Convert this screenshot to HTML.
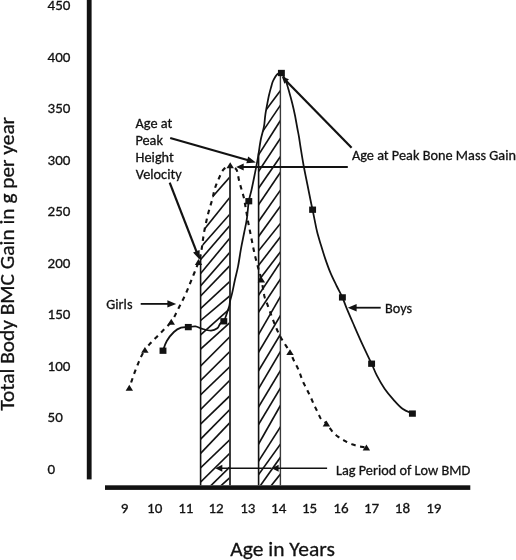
<!DOCTYPE html>
<html><head><meta charset="utf-8"><title>Total Body BMC Gain by Age</title>
<style>html,body{margin:0;padding:0;background:#fff;width:516px;height:560px;overflow:hidden}svg{display:block}</style>
</head><body>
<svg width="516" height="560" viewBox="0 0 516 560">
<rect width="516" height="560" fill="#fff"/>
<defs>
<clipPath id="cl"><polygon points="230.10,485.30 200.60,485.30 200.60,254.44 200.60,254.44 200.67,254.11 200.74,253.77 200.81,253.44 200.88,253.10 200.95,252.76 201.02,252.42 201.09,252.07 201.16,251.72 201.23,251.36 201.30,251.00 201.37,250.63 201.44,250.26 201.51,249.90 201.57,249.53 201.64,249.16 201.70,248.78 201.76,248.41 201.81,248.04 201.87,247.67 201.92,247.30 201.97,246.92 202.03,246.55 202.08,246.18 202.13,245.81 202.18,245.44 202.22,245.07 202.27,244.70 202.32,244.33 202.36,243.96 202.41,243.59 202.46,243.23 202.50,242.86 202.55,242.50 202.60,242.14 202.65,241.78 202.70,241.42 202.75,241.06 202.80,240.70 202.85,240.35 202.90,240.00 202.95,239.65 203.00,239.31 203.05,238.97 203.10,238.64 203.15,238.31 203.20,237.98 203.25,237.66 203.30,237.34 203.34,237.02 203.39,236.70 203.44,236.38 203.48,236.07 203.53,235.75 203.58,235.44 203.62,235.12 203.67,234.80 203.72,234.48 203.77,234.16 203.83,233.84 203.88,233.51 203.93,233.18 203.99,232.85 204.04,232.51 204.10,232.17 204.16,231.82 204.23,231.47 204.29,231.11 204.36,230.75 204.43,230.38 204.50,230.00 204.57,229.61 204.65,229.22 204.73,228.81 204.82,228.39 204.90,227.97 204.99,227.54 205.08,227.10 205.17,226.66 205.27,226.21 205.36,225.76 205.46,225.31 205.56,224.85 205.66,224.39 205.76,223.93 205.86,223.47 205.96,223.02 206.06,222.56 206.16,222.10 206.26,221.65 206.36,221.20 206.46,220.76 206.56,220.32 206.66,219.89 206.75,219.46 206.85,219.05 206.94,218.64 207.03,218.24 207.13,217.85 207.21,217.47 207.30,217.10 207.38,216.74 207.47,216.39 207.55,216.05 207.63,215.72 207.71,215.40 207.79,215.08 207.86,214.77 207.94,214.46 208.01,214.16 208.09,213.87 208.16,213.58 208.24,213.29 208.31,213.01 208.38,212.73 208.46,212.46 208.53,212.18 208.60,211.91 208.68,211.64 208.75,211.37 208.82,211.10 208.90,210.83 208.97,210.55 209.05,210.28 209.12,210.01 209.20,209.73 209.28,209.45 209.36,209.17 209.44,208.88 209.52,208.59 209.60,208.30 209.68,208.00 209.77,207.71 209.86,207.41 209.94,207.12 210.03,206.83 210.12,206.53 210.21,206.24 210.30,205.95 210.39,205.66 210.48,205.36 210.57,205.07 210.67,204.78 210.76,204.48 210.85,204.19 210.94,203.89 211.04,203.60 211.13,203.30 211.22,203.00 211.32,202.70 211.41,202.40 211.50,202.10 211.59,201.80 211.68,201.49 211.77,201.19 211.86,200.88 211.95,200.57 212.04,200.25 212.13,199.94 212.21,199.62 212.30,199.30 212.38,198.98 212.47,198.65 212.55,198.31 212.63,197.98 212.71,197.64 212.78,197.29 212.86,196.95 212.94,196.60 213.01,196.25 213.09,195.90 213.16,195.54 213.24,195.19 213.31,194.83 213.39,194.48 213.46,194.12 213.54,193.76 213.61,193.41 213.69,193.05 213.77,192.70 213.84,192.35 213.92,192.00 214.00,191.65 214.08,191.31 214.17,190.97 214.25,190.63 214.34,190.29 214.42,189.96 214.51,189.64 214.61,189.32 214.70,189.00 214.80,188.69 214.89,188.38 214.99,188.08 215.08,187.79 215.18,187.49 215.28,187.21 215.38,186.92 215.48,186.64 215.58,186.36 215.69,186.08 215.79,185.81 215.89,185.53 216.00,185.26 216.10,184.99 216.21,184.72 216.32,184.45 216.43,184.18 216.54,183.91 216.66,183.64 216.77,183.36 216.89,183.09 217.00,182.81 217.12,182.53 217.24,182.25 217.36,181.97 217.49,181.68 217.61,181.39 217.74,181.10 217.87,180.80 218.00,180.50 218.13,180.19 218.27,179.87 218.41,179.55 218.55,179.21 218.70,178.87 218.85,178.53 219.00,178.18 219.15,177.82 219.30,177.46 219.46,177.10 219.62,176.74 219.78,176.38 219.93,176.02 220.10,175.66 220.26,175.30 220.42,174.94 220.58,174.59 220.74,174.24 220.90,173.90 221.06,173.56 221.22,173.23 221.38,172.91 221.54,172.60 221.70,172.29 221.85,172.00 222.01,171.71 222.16,171.44 222.31,171.18 222.46,170.93 222.60,170.70 222.74,170.48 222.88,170.27 223.03,170.07 223.17,169.89 223.31,169.71 223.44,169.54 223.58,169.38 223.72,169.23 223.86,169.08 223.99,168.94 224.13,168.81 224.26,168.69 224.40,168.57 224.53,168.46 224.66,168.35 224.79,168.25 224.93,168.15 225.06,168.05 225.19,167.96 225.32,167.87 225.45,167.78 225.58,167.69 225.71,167.61 225.84,167.52 225.96,167.44 226.09,167.35 226.22,167.27 226.35,167.18 226.47,167.09 226.60,167.00 226.73,166.91 226.85,166.82 226.98,166.73 227.10,166.63 227.22,166.54 227.35,166.45 227.47,166.37 227.59,166.28 227.71,166.19 227.83,166.11 227.95,166.03 228.07,165.95 228.19,165.87 228.31,165.80 228.43,165.73 228.55,165.66 228.67,165.60 228.79,165.54 228.90,165.48 229.02,165.43 229.14,165.39 229.26,165.34 229.38,165.31 229.49,165.27 229.61,165.25 229.73,165.23 229.85,165.21 229.96,165.20 230.08,165.20 230.10,165.20"/></clipPath>
<clipPath id="cr"><polygon points="280.30,485.30 258.60,485.30 258.60,153.54 258.67,153.07 258.76,152.45 258.85,151.83 258.94,151.21 259.03,150.59 259.12,149.97 259.21,149.35 259.30,148.73 259.39,148.11 259.48,147.50 259.57,146.89 259.66,146.28 259.75,145.68 259.84,145.08 259.93,144.49 260.02,143.90 260.12,143.32 260.21,142.74 260.31,142.18 260.40,141.62 260.50,141.07 260.60,140.53 260.70,140.00 260.80,139.48 260.91,138.97 261.02,138.46 261.13,137.96 261.24,137.47 261.36,136.98 261.48,136.50 261.59,136.03 261.71,135.56 261.83,135.09 261.95,134.63 262.08,134.18 262.20,133.73 262.32,133.28 262.44,132.84 262.56,132.40 262.68,131.96 262.79,131.53 262.91,131.09 263.02,130.66 263.13,130.23 263.24,129.81 263.35,129.38 263.45,128.96 263.55,128.53 263.65,128.11 263.74,127.68 263.83,127.25 263.92,126.83 264.00,126.40 264.08,125.98 264.15,125.56 264.21,125.14 264.27,124.74 264.33,124.33 264.38,123.94 264.43,123.54 264.47,123.15 264.52,122.76 264.56,122.37 264.59,121.99 264.63,121.61 264.66,121.22 264.70,120.84 264.73,120.46 264.76,120.07 264.80,119.69 264.83,119.30 264.86,118.91 264.90,118.51 264.94,118.12 264.98,117.72 265.02,117.31 265.06,116.90 265.11,116.48 265.16,116.06 265.21,115.63 265.27,115.20 265.33,114.75 265.40,114.30 265.47,113.83 265.55,113.35 265.63,112.86 265.71,112.35 265.80,111.83 265.89,111.29 265.99,110.75 266.09,110.20 266.18,109.65 266.29,109.09 266.39,108.53 266.49,107.96 266.60,107.39 266.70,106.83 266.81,106.26 266.91,105.70 267.02,105.15 267.12,104.60 267.22,104.05 267.33,103.52 267.43,103.00 267.52,102.49 267.62,101.99 267.71,101.51 267.80,101.04 267.89,100.59 267.97,100.16 268.05,99.75 268.13,99.37 268.20,99.00 268.27,98.66 268.33,98.33 268.39,98.03 268.45,97.74 268.50,97.47 268.55,97.22 268.60,96.98 268.65,96.75 268.69,96.54 268.73,96.34 268.77,96.15 268.81,95.96 268.85,95.79 268.89,95.62 268.92,95.46 268.96,95.31 269.00,95.16 269.03,95.01 269.07,94.86 269.10,94.72 269.14,94.57 269.17,94.43 269.21,94.28 269.24,94.13 269.28,93.97 269.32,93.81 269.36,93.65 269.41,93.47 269.45,93.29 269.50,93.10 269.55,92.90 269.60,92.71 269.65,92.51 269.70,92.31 269.75,92.11 269.80,91.91 269.85,91.71 269.91,91.51 269.96,91.31 270.01,91.11 270.06,90.92 270.12,90.72 270.17,90.52 270.23,90.32 270.28,90.12 270.34,89.92 270.39,89.72 270.45,89.52 270.50,89.33 270.56,89.13 270.61,88.93 270.67,88.74 270.72,88.54 270.78,88.35 270.83,88.15 270.88,87.96 270.94,87.77 270.99,87.58 271.05,87.39 271.10,87.20 271.15,87.01 271.21,86.82 271.26,86.63 271.31,86.45 271.36,86.26 271.41,86.07 271.46,85.88 271.51,85.70 271.56,85.51 271.61,85.32 271.66,85.14 271.71,84.95 271.76,84.77 271.81,84.58 271.86,84.40 271.91,84.22 271.96,84.04 272.02,83.86 272.07,83.68 272.12,83.50 272.18,83.32 272.23,83.15 272.29,82.97 272.34,82.80 272.40,82.63 272.46,82.46 272.52,82.29 272.58,82.13 272.64,81.96 272.70,81.80 272.76,81.64 272.83,81.48 272.89,81.32 272.96,81.17 273.03,81.01 273.10,80.86 273.16,80.70 273.23,80.55 273.30,80.40 273.37,80.26 273.45,80.11 273.52,79.96 273.59,79.82 273.66,79.67 273.74,79.53 273.81,79.39 273.89,79.25 273.96,79.11 274.04,78.97 274.11,78.83 274.19,78.70 274.27,78.56 274.35,78.43 274.42,78.29 274.50,78.16 274.58,78.02 274.66,77.89 274.74,77.76 274.82,77.63 274.90,77.50 274.98,77.37 275.06,77.24 275.14,77.11 275.22,76.97 275.30,76.84 275.37,76.71 275.45,76.58 275.53,76.44 275.61,76.31 275.69,76.18 275.77,76.05 275.85,75.92 275.93,75.79 276.01,75.67 276.09,75.54 276.18,75.42 276.26,75.30 276.35,75.18 276.43,75.07 276.52,74.95 276.61,74.84 276.70,74.73 276.80,74.63 276.89,74.53 276.99,74.43 277.09,74.34 277.19,74.25 277.29,74.16 277.39,74.08 277.50,74.00 277.61,73.92 277.72,73.84 277.83,73.76 277.95,73.67 278.07,73.58 278.19,73.49 278.31,73.40 278.43,73.31 278.55,73.22 278.68,73.13 278.80,73.05 278.93,72.96 279.06,72.89 279.19,72.82 279.32,72.75 279.46,72.69 279.59,72.64 279.73,72.60 279.86,72.56 280.00,72.54 280.14,72.52 280.28,72.52 280.30,72.52"/></clipPath>
</defs>
<g clip-path="url(#cl)" stroke="#121212" stroke-width="1.65">
<line x1="233.10" y1="173.39" x2="197.60" y2="213.71"/>
<line x1="233.10" y1="193.36" x2="197.60" y2="237.64"/>
<line x1="233.10" y1="210.49" x2="197.60" y2="250.81"/>
<line x1="233.10" y1="221.93" x2="197.60" y2="262.97"/>
<line x1="233.10" y1="234.17" x2="197.60" y2="277.13"/>
<line x1="233.10" y1="248.66" x2="197.60" y2="289.34"/>
<line x1="233.10" y1="262.29" x2="197.60" y2="299.11"/>
<line x1="233.10" y1="278.52" x2="197.60" y2="311.38"/>
<line x1="233.10" y1="293.07" x2="197.60" y2="323.03"/>
<line x1="233.10" y1="305.71" x2="197.60" y2="337.59"/>
<line x1="233.10" y1="319.81" x2="197.60" y2="351.69"/>
<line x1="233.10" y1="333.61" x2="197.60" y2="368.99"/>
<line x1="233.10" y1="348.33" x2="197.60" y2="383.47"/>
<line x1="233.10" y1="363.51" x2="197.60" y2="397.69"/>
<line x1="233.10" y1="377.10" x2="197.60" y2="412.60"/>
<line x1="233.10" y1="392.71" x2="197.60" y2="426.89"/>
<line x1="233.10" y1="406.27" x2="197.60" y2="442.13"/>
<line x1="233.10" y1="419.25" x2="197.60" y2="456.55"/>
<line x1="233.10" y1="436.63" x2="197.60" y2="470.57"/>
<line x1="233.10" y1="450.05" x2="197.60" y2="484.95"/>
<line x1="233.10" y1="463.86" x2="197.60" y2="498.64"/>
<line x1="233.10" y1="474.81" x2="197.60" y2="506.69"/>
</g>
<g clip-path="url(#cr)" stroke="#121212" stroke-width="1.65">
<line x1="283.30" y1="86.68" x2="255.60" y2="123.82"/>
<line x1="283.30" y1="100.96" x2="255.60" y2="141.94"/>
<line x1="283.30" y1="115.99" x2="255.60" y2="159.51"/>
<line x1="283.30" y1="134.07" x2="255.60" y2="175.93"/>
<line x1="283.30" y1="152.46" x2="255.60" y2="192.54"/>
<line x1="283.30" y1="168.06" x2="255.60" y2="209.04"/>
<line x1="283.30" y1="186.11" x2="255.60" y2="225.69"/>
<line x1="283.30" y1="202.25" x2="255.60" y2="240.55"/>
<line x1="283.30" y1="219.85" x2="255.60" y2="254.45"/>
<line x1="283.30" y1="233.19" x2="255.60" y2="269.31"/>
<line x1="283.30" y1="248.17" x2="255.60" y2="284.43"/>
<line x1="283.30" y1="257.78" x2="255.60" y2="299.52"/>
<line x1="283.30" y1="274.77" x2="255.60" y2="316.63"/>
<line x1="283.30" y1="291.62" x2="255.60" y2="339.48"/>
<line x1="283.30" y1="310.67" x2="255.60" y2="357.13"/>
<line x1="283.30" y1="329.61" x2="255.60" y2="375.69"/>
<line x1="283.30" y1="346.71" x2="255.60" y2="393.69"/>
<line x1="283.30" y1="365.71" x2="255.60" y2="411.79"/>
<line x1="283.30" y1="383.21" x2="255.60" y2="429.29"/>
<line x1="283.30" y1="400.42" x2="255.60" y2="449.18"/>
<line x1="283.30" y1="422.41" x2="255.60" y2="465.69"/>
<line x1="283.30" y1="440.11" x2="255.60" y2="478.79"/>
<line x1="283.30" y1="453.27" x2="255.60" y2="492.33"/>
<line x1="283.30" y1="470.55" x2="255.60" y2="505.15"/>
</g>
<g fill="none">
<line x1="200.6" y1="254.44" x2="200.6" y2="485.3" stroke="#121212" stroke-width="1.6"/>
<line x1="230.0" y1="165" x2="230.0" y2="485.3" stroke="#333" stroke-width="1.9"/>
<line x1="258.6" y1="153.54" x2="258.6" y2="485.3" stroke="#121212" stroke-width="1.6"/>
<line x1="280.4" y1="74" x2="280.4" y2="485.3" stroke="#3a3a3a" stroke-width="1.4"/>
</g>
<path d="M129.63,386.86 L129.64,386.83 L130.06,385.61 L130.54,384.18 L131.09,382.57 L131.68,380.82 L132.32,378.97 L132.98,377.06 L133.67,375.13 L134.36,373.21 L135.05,371.34 L135.74,369.56 L136.40,367.90 L137.04,366.32 L137.67,364.76 L138.30,363.20 L138.93,361.65 L139.57,360.12 L140.23,358.60 L140.91,357.10 L141.62,355.61 L142.37,354.15 L143.16,352.71 L144.00,351.29 L144.90,349.90" fill="none" stroke="#121212" stroke-width="2.1" stroke-dasharray="4.5 4.6" stroke-dashoffset="4.5" stroke-linejoin="round"/>
<path d="M145.48,349.08 L145.87,348.53 L146.91,347.19 L148.02,345.87 L149.17,344.58 L150.36,343.30 L151.57,342.04 L152.80,340.80 L154.04,339.58 L155.26,338.37 L156.46,337.17 L157.63,335.98 L158.75,334.80 L159.86,333.64 L160.97,332.50 L162.10,331.39 L163.21,330.29 L164.32,329.20 L165.42,328.13 L166.49,327.06 L167.53,326.00 L168.53,324.94 L169.49,323.87 L170.40,322.79 L171.25,321.70" fill="none" stroke="#121212" stroke-width="2.1" stroke-dasharray="4.5 4.6" stroke-dashoffset="4.5" stroke-linejoin="round"/>
<path d="M171.83,320.89 L172.03,320.60 L172.76,319.51 L173.42,318.41 L174.05,317.31 L174.63,316.21 L175.19,315.11 L175.72,314.01 L176.25,312.91 L176.77,311.81 L177.30,310.71 L177.84,309.60 L178.40,308.50 L178.97,307.40 L179.54,306.32 L180.11,305.25 L180.67,304.18 L181.22,303.11 L181.78,302.03 L182.33,300.95 L182.88,299.84 L183.44,298.72 L183.99,297.58 L184.54,296.41 L185.10,295.20 L185.66,293.96 L186.22,292.69 L186.77,291.40 L187.33,290.08 L187.89,288.74 L188.45,287.39 L189.01,286.02 L189.57,284.64 L190.12,283.26 L190.68,281.87 L191.24,280.49 L191.80,279.10 L192.37,277.69 L192.96,276.24 L193.57,274.75 L194.18,273.25 L194.79,271.74 L195.39,270.23 L195.98,268.74 L196.56,267.29 L197.10,265.87 L197.61,264.51 L198.08,263.21 L198.50,262.00" fill="none" stroke="#121212" stroke-width="2.1" stroke-dasharray="4.5 4.6" stroke-dashoffset="4.5" stroke-linejoin="round"/>
<path d="M229.22,165.36 L229.02,165.43 L228.73,165.57 L228.43,165.73 L228.13,165.91 L227.83,166.11 L227.53,166.32 L227.22,166.54 L226.91,166.77 L226.60,167.00 L226.28,167.22 L225.96,167.44 L225.64,167.65 L225.32,167.87 L224.99,168.10 L224.66,168.35 L224.33,168.63 L223.99,168.94 L223.65,169.30 L223.31,169.71 L222.96,170.17 L222.60,170.70 L222.23,171.31 L221.85,172.00 L221.46,172.75 L221.06,173.56 L220.66,174.42 L220.26,175.30 L219.85,176.20 L219.46,177.10 L219.07,178.00 L218.70,178.87 L218.34,179.71 L218.00,180.50 L217.68,181.25 L217.36,181.97 L217.06,182.67 L216.77,183.36 L216.49,184.04 L216.21,184.72 L215.95,185.40 L215.69,186.08 L215.43,186.78 L215.18,187.49 L214.94,188.23 L214.70,189.00 L214.47,189.80 L214.25,190.63 L214.04,191.48 L213.84,192.35 L213.65,193.23 L213.46,194.12 L213.28,195.01 L213.09,195.90 L212.90,196.77 L212.71,197.64 L212.51,198.48 L212.30,199.30 L212.08,200.10 L211.86,200.88 L211.64,201.65 L211.41,202.40 L211.18,203.15 L210.94,203.89 L210.71,204.63 L210.48,205.36 L210.25,206.09 L210.03,206.83 L209.81,207.56 L209.60,208.30 L209.40,209.03 L209.20,209.73 L209.01,210.42 L208.82,211.10 L208.64,211.77 L208.46,212.46 L208.27,213.15 L208.09,213.87 L207.90,214.62 L207.71,215.40 L207.51,216.22 L207.30,217.10 L207.08,218.04 L206.85,219.05 L206.61,220.10 L206.36,221.20 L206.11,222.33 L205.86,223.47 L205.61,224.62 L205.36,225.76 L205.13,226.88 L204.90,227.97 L204.69,229.01 L204.50,230.00 L204.32,230.93 L204.16,231.82 L204.02,232.68 L203.88,233.51 L203.75,234.32 L203.62,235.12 L203.51,235.91 L203.39,236.70 L203.27,237.50 L203.15,238.31 L203.03,239.14 L202.90,240.00 L202.77,240.88 L202.65,241.78 L202.53,242.68 L202.41,243.59 L202.29,244.51 L202.18,245.44 L202.05,246.37 L201.92,247.30 L201.78,248.23 L201.64,249.16 L201.48,250.08 L201.30,251.00 L201.12,251.90 L200.95,252.76 L200.78,253.61 L200.60,254.44 L200.42,255.27 L200.22,256.12 L200.00,256.98 L199.77,257.88 L199.50,258.82 L199.21,259.81 L198.87,260.87 L198.50,262.00" fill="none" stroke="#121212" stroke-width="2.1" stroke-dasharray="4.5 4.6" stroke-dashoffset="4.5" stroke-linejoin="round"/>
<path d="M231.15,165.48 L231.39,165.60 L231.68,165.78 L231.97,165.99 L232.27,166.21 L232.56,166.44 L232.85,166.69 L233.14,166.93 L233.42,167.17 L233.70,167.40 L233.98,167.61 L234.26,167.78 L234.54,167.94 L234.81,168.09 L235.09,168.25 L235.36,168.43 L235.63,168.64 L235.90,168.90 L236.16,169.21 L236.41,169.59 L236.66,170.05 L236.90,170.60 L237.13,171.25 L237.34,171.97 L237.53,172.76 L237.72,173.62 L237.90,174.54 L238.08,175.50 L238.27,176.51 L238.46,177.54 L238.66,178.61 L238.89,179.70 L239.13,180.80 L239.40,181.90 L239.70,183.05 L240.04,184.27 L240.41,185.55 L240.79,186.88 L241.19,188.24 L241.59,189.60 L241.99,190.96 L242.39,192.30 L242.76,193.60 L243.11,194.84 L243.42,196.01 L243.70,197.10 L243.93,198.08 L244.13,198.95 L244.30,199.74 L244.44,200.47 L244.57,201.16 L244.68,201.83 L244.79,202.51 L244.90,203.22 L245.02,203.98 L245.16,204.82 L245.32,205.75 L245.50,206.80 L245.71,207.99 L245.94,209.29 L246.18,210.70 L246.44,212.19 L246.71,213.72 L246.98,215.28 L247.25,216.85 L247.51,218.39 L247.78,219.89 L248.03,221.33 L248.27,222.67 L248.50,223.90 L248.71,225.00 L248.90,226.00 L249.08,226.92 L249.26,227.77 L249.42,228.58 L249.59,229.37 L249.75,230.15 L249.92,230.95 L250.10,231.78 L250.28,232.67 L250.48,233.64 L250.70,234.70 L250.93,235.86 L251.18,237.10 L251.43,238.41 L251.70,239.76 L251.97,241.16 L252.24,242.57 L252.52,243.99 L252.80,245.40 L253.08,246.80 L253.36,248.15 L253.63,249.46 L253.90,250.70 L254.16,251.87 L254.41,252.99 L254.65,254.07 L254.89,255.11 L255.13,256.14 L255.38,257.15 L255.62,258.16 L255.87,259.19 L256.14,260.23 L256.41,261.31 L256.70,262.43 L257.00,263.60 L257.33,264.82 L257.68,266.09 L258.04,267.38 L258.43,268.70 L258.82,270.04 L259.21,271.40 L259.61,272.77 L260.00,274.14 L260.38,275.52 L260.74,276.89 L261.08,278.25 L261.40,279.60" fill="none" stroke="#121212" stroke-width="2.1" stroke-dasharray="4.5 4.6" stroke-dashoffset="4.5" stroke-linejoin="round"/>
<path d="M261.61,280.58 L261.69,280.96 L261.97,282.37 L262.23,283.81 L262.48,285.26 L262.72,286.72 L262.95,288.16 L263.17,289.57 L263.40,290.94 L263.62,292.25 L263.84,293.49 L264.07,294.65 L264.30,295.70 L264.54,296.64 L264.77,297.48 L265.00,298.22 L265.22,298.89 L265.45,299.50 L265.68,300.07 L265.90,300.62 L266.13,301.17 L266.37,301.72 L266.61,302.30 L266.85,302.92 L267.10,303.60 L267.36,304.33 L267.62,305.08 L267.89,305.85 L268.17,306.63 L268.44,307.42 L268.73,308.21 L269.01,309.01 L269.29,309.81 L269.57,310.60 L269.85,311.38 L270.13,312.15 L270.40,312.90 L270.67,313.64 L270.94,314.36 L271.20,315.08 L271.46,315.79 L271.73,316.49 L271.99,317.19 L272.25,317.89 L272.51,318.59 L272.78,319.29 L273.05,319.99 L273.32,320.69 L273.60,321.40 L273.88,322.11 L274.16,322.83 L274.44,323.54 L274.71,324.26 L275.00,324.98 L275.28,325.69 L275.57,326.41 L275.86,327.13 L276.16,327.85 L276.47,328.57 L276.78,329.28 L277.10,330.00 L277.42,330.70 L277.72,331.38 L278.02,332.04 L278.31,332.69 L278.62,333.34 L278.93,333.99 L279.26,334.67 L279.62,335.37 L280.00,336.11 L280.43,336.88 L280.89,337.71 L281.40,338.60 L281.98,339.57 L282.64,340.63 L283.36,341.76 L284.13,342.94 L284.93,344.16 L285.74,345.39 L286.55,346.62 L287.34,347.83 L288.10,349.00 L288.81,350.12 L289.44,351.16 L290.00,352.10" fill="none" stroke="#121212" stroke-width="2.1" stroke-dasharray="4.5 4.6" stroke-dashoffset="4.5" stroke-linejoin="round"/>
<path d="M290.48,352.97 L290.87,353.72 L291.22,354.42 L291.52,355.07 L291.78,355.68 L292.03,356.27 L292.25,356.84 L292.48,357.42 L292.72,358.01 L292.98,358.63 L293.27,359.29 L293.60,360.00 L293.97,360.76 L294.36,361.53 L294.77,362.32 L295.19,363.13 L295.62,363.95 L296.06,364.78 L296.50,365.63 L296.93,366.49 L297.37,367.35 L297.79,368.23 L298.20,369.11 L298.60,370.00 L298.97,370.89 L299.32,371.79 L299.66,372.68 L299.98,373.59 L300.30,374.50 L300.62,375.43 L300.95,376.37 L301.29,377.33 L301.64,378.31 L302.03,379.32 L302.45,380.34 L302.90,381.40 L303.40,382.51 L303.96,383.68 L304.56,384.90 L305.18,386.16 L305.83,387.44 L306.48,388.72 L307.13,390.00 L307.77,391.25 L308.39,392.46 L308.98,393.61 L309.51,394.70 L310.00,395.70 L310.43,396.62 L310.83,397.48 L311.18,398.28 L311.51,399.03 L311.82,399.74 L312.11,400.43 L312.39,401.08 L312.66,401.73 L312.93,402.36 L313.21,403.00 L313.50,403.64 L313.80,404.30 L314.11,404.96 L314.42,405.61 L314.73,406.25 L315.04,406.88 L315.34,407.50 L315.65,408.12 L315.96,408.73 L316.26,409.34 L316.57,409.95 L316.88,410.56 L317.19,411.18 L317.50,411.80 L317.81,412.44 L318.11,413.09 L318.41,413.75 L318.71,414.42 L319.01,415.09 L319.31,415.76 L319.62,416.41 L319.93,417.04 L320.26,417.66 L320.59,418.24 L320.94,418.79 L321.30,419.30 L321.67,419.75 L322.05,420.13 L322.43,420.46 L322.82,420.75 L323.22,421.02 L323.63,421.27 L324.05,421.54 L324.49,421.83 L324.94,422.15 L325.41,422.53 L325.89,422.97 L326.40,423.50" fill="none" stroke="#121212" stroke-width="2.1" stroke-dasharray="4.5 4.6" stroke-dashoffset="4.5" stroke-linejoin="round"/>
<path d="M327.05,424.26 L327.49,424.82 L328.07,425.59 L328.67,426.41 L329.28,427.28 L329.91,428.16 L330.54,429.04 L331.18,429.92 L331.82,430.77 L332.45,431.58 L333.08,432.32 L333.70,433.00 L334.31,433.61 L334.92,434.19 L335.53,434.73 L336.13,435.23 L336.74,435.72 L337.35,436.17 L337.96,436.62 L338.58,437.04 L339.20,437.46 L339.83,437.88 L340.46,438.29 L341.10,438.70 L341.75,439.11 L342.40,439.51 L343.06,439.90 L343.72,440.28 L344.38,440.65 L345.06,441.01 L345.73,441.36 L346.41,441.71 L347.10,442.04 L347.80,442.37 L348.49,442.69 L349.20,443.00 L349.92,443.31 L350.64,443.61 L351.38,443.90 L352.13,444.19 L352.88,444.46 L353.64,444.73 L354.39,444.99 L355.15,445.24 L355.90,445.47 L356.64,445.70 L357.38,445.91 L358.10,446.10 L358.84,446.28 L359.61,446.45 L360.41,446.60 L361.22,446.74 L362.02,446.87 L362.81,446.99 L363.56,447.10 L364.27,447.20 L364.92,447.29 L365.50,447.37 L366.00,447.44 L366.40,447.50" fill="none" stroke="#121212" stroke-width="2.1" stroke-dasharray="4.5 4.6" stroke-dashoffset="4.5" stroke-linejoin="round"/>
<path d="M163.00,350.70 C163.63,349.08 164.98,344.12 166.80,341.00 C168.62,337.88 171.53,334.22 173.90,332.00 C176.27,329.78 178.60,328.52 181.00,327.70 C183.40,326.88 185.88,327.32 188.30,327.10 C190.72,326.88 193.26,326.13 195.50,326.40 C197.74,326.67 199.17,328.00 201.75,328.70 C204.33,329.40 208.41,330.67 211.00,330.60 C213.59,330.53 215.73,329.52 217.30,328.30 C218.87,327.08 219.32,324.47 220.40,323.30 C221.48,322.13 222.93,322.35 223.80,321.30 C224.67,320.25 224.93,318.80 225.60,317.00 C226.27,315.20 227.18,312.33 227.80,310.50 C228.42,308.67 228.90,307.67 229.30,306.00 C229.70,304.33 229.72,302.68 230.20,300.50 C230.68,298.32 231.42,296.32 232.20,292.90 C232.98,289.48 233.92,284.47 234.90,280.00 C235.88,275.53 237.08,271.33 238.10,266.10 C239.12,260.87 239.98,254.20 241.00,248.60 C242.02,243.00 243.22,237.50 244.20,232.50 C245.18,227.50 246.13,223.82 246.90,218.60 C247.67,213.38 248.03,205.97 248.80,201.20 C249.57,196.43 250.53,194.37 251.50,190.00 C252.47,185.63 253.53,180.35 254.60,175.00 C255.67,169.65 256.88,163.73 257.90,157.90 C258.92,152.07 259.68,145.25 260.70,140.00 C261.72,134.75 263.22,130.68 264.00,126.40 C264.78,122.12 264.70,118.87 265.40,114.30 C266.10,109.73 267.52,102.53 268.20,99.00 C268.88,95.47 269.02,95.07 269.50,93.10 C269.98,91.13 270.57,89.08 271.10,87.20 C271.63,85.32 272.07,83.42 272.70,81.80 C273.33,80.18 274.10,78.80 274.90,77.50 C275.70,76.20 276.42,74.75 277.50,74.00 C278.58,73.25 279.98,71.75 281.40,73.00 C282.82,74.25 284.70,78.33 286.00,81.50 C287.30,84.67 288.15,88.33 289.20,92.00 C290.25,95.67 291.35,99.67 292.30,103.50 C293.25,107.33 294.07,110.92 294.90,115.00 C295.73,119.08 296.62,124.33 297.30,128.00 C297.98,131.67 298.45,133.75 299.00,137.00 C299.55,140.25 299.81,142.62 300.60,147.50 C301.39,152.38 302.60,160.00 303.75,166.25 C304.90,172.50 306.25,178.75 307.50,185.00 C308.75,191.25 310.40,199.63 311.25,203.75 C312.10,207.87 312.06,207.11 312.60,209.70 C313.14,212.29 313.75,215.62 314.50,219.30 C315.25,222.98 316.07,227.63 317.10,231.80 C318.13,235.97 319.35,239.83 320.70,244.30 C322.05,248.77 323.57,253.83 325.20,258.60 C326.83,263.37 328.57,268.29 330.50,272.90 C332.43,277.51 334.82,282.17 336.80,286.25 C338.78,290.33 340.75,293.71 342.40,297.40 C344.05,301.09 344.87,303.97 346.70,308.40 C348.53,312.83 350.80,318.05 353.40,324.00 C356.00,329.95 359.27,337.48 362.30,344.10 C365.33,350.72 369.18,358.48 371.60,363.70 C374.02,368.92 374.63,371.22 376.80,375.40 C378.97,379.57 381.80,384.67 384.60,388.75 C387.40,392.83 390.62,396.56 393.60,399.90 C396.58,403.24 399.37,406.52 402.50,408.80 C405.63,411.08 410.75,412.80 412.40,413.60" fill="none" stroke="#121212" stroke-width="1.75"/>
<polygon points="129.30,384.85 133.00,390.75 125.60,390.75" fill="#121212"/>
<polygon points="144.90,346.95 148.60,352.85 141.20,352.85" fill="#121212"/>
<polygon points="171.25,318.75 174.95,324.65 167.55,324.65" fill="#121212"/>
<polygon points="198.50,259.05 202.20,264.95 194.80,264.95" fill="#121212"/>
<polygon points="230.20,162.25 233.90,168.15 226.50,168.15" fill="#121212"/>
<polygon points="261.40,276.65 265.10,282.55 257.70,282.55" fill="#121212"/>
<polygon points="290.00,349.15 293.70,355.05 286.30,355.05" fill="#121212"/>
<polygon points="326.40,420.55 330.10,426.45 322.70,426.45" fill="#121212"/>
<polygon points="366.40,444.55 370.10,450.45 362.70,450.45" fill="#121212"/>
<rect x="159.55" y="347.55" width="6.9" height="6.3" fill="#121212"/>
<rect x="184.85" y="323.95" width="6.9" height="6.3" fill="#121212"/>
<rect x="220.35" y="318.15" width="6.9" height="6.3" fill="#121212"/>
<rect x="245.35" y="198.05" width="6.9" height="6.3" fill="#121212"/>
<rect x="277.95" y="69.85" width="6.9" height="6.3" fill="#121212"/>
<rect x="309.15" y="206.55" width="6.9" height="6.3" fill="#121212"/>
<rect x="338.95" y="294.25" width="6.9" height="6.3" fill="#121212"/>
<rect x="368.15" y="360.55" width="6.9" height="6.3" fill="#121212"/>
<rect x="408.95" y="410.45" width="6.9" height="6.3" fill="#121212"/>
<rect x="86.8" y="0" width="4.8" height="479.4" fill="#121212"/>
<rect x="105" y="485.3" width="365.3" height="4.6" fill="#121212"/>
<line x1="140.70" y1="303.90" x2="168.40" y2="303.90" stroke="#121212" stroke-width="1.8"/><polygon points="176.20,303.90 167.40,307.60 167.40,300.20" fill="#121212"/>
<line x1="380.70" y1="307.70" x2="355.60" y2="307.70" stroke="#121212" stroke-width="1.8"/><polygon points="347.80,307.70 356.60,304.00 356.60,311.40" fill="#121212"/>
<line x1="170.20" y1="138.00" x2="248.21" y2="160.21" stroke="#121212" stroke-width="2.2"/><polygon points="255.90,162.40 246.29,163.30 248.20,156.57" fill="#121212"/>
<line x1="169.70" y1="182.70" x2="196.70" y2="252.14" stroke="#121212" stroke-width="2.2"/><polygon points="199.60,259.60 193.08,252.48 199.60,249.94" fill="#121212"/>
<line x1="351.60" y1="147.80" x2="285.99" y2="80.69" stroke="#121212" stroke-width="2.2"/><polygon points="281.80,76.40 288.98,79.17 284.41,83.64" fill="#121212"/>
<line x1="347.80" y1="167.00" x2="242.70" y2="167.00" stroke="#121212" stroke-width="1.9"/><polygon points="236.20,167.00 243.70,163.60 243.70,170.40" fill="#121212"/>
<line x1="327.10" y1="468.20" x2="277.60" y2="468.20" stroke="#121212" stroke-width="1.6"/><polygon points="271.60,468.20 278.60,464.70 278.60,471.70" fill="#121212"/>
<line x1="271.60" y1="468.20" x2="221.30" y2="468.20" stroke="#121212" stroke-width="1.6"/><polygon points="215.30,468.20 222.30,464.70 222.30,471.70" fill="#121212"/>
<g font-family="Carlito, 'Liberation Sans', sans-serif" fill="#121212" stroke="#121212" stroke-width="0.3">
<text x="47.60" y="10.40" font-size="15" textLength="22.81" lengthAdjust="spacingAndGlyphs" >450</text>
<text x="47.60" y="61.91" font-size="15" textLength="22.81" lengthAdjust="spacingAndGlyphs" >400</text>
<text x="47.60" y="113.42" font-size="15" textLength="22.81" lengthAdjust="spacingAndGlyphs" >350</text>
<text x="47.60" y="164.93" font-size="15" textLength="22.81" lengthAdjust="spacingAndGlyphs" >300</text>
<text x="47.60" y="216.44" font-size="15" textLength="22.81" lengthAdjust="spacingAndGlyphs" >250</text>
<text x="47.60" y="267.95" font-size="15" textLength="22.81" lengthAdjust="spacingAndGlyphs" >200</text>
<text x="47.60" y="319.46" font-size="15" textLength="22.81" lengthAdjust="spacingAndGlyphs" >150</text>
<text x="47.60" y="370.97" font-size="15" textLength="22.81" lengthAdjust="spacingAndGlyphs" >100</text>
<text x="47.60" y="422.48" font-size="15" textLength="15.22" lengthAdjust="spacingAndGlyphs" >50</text>
<text x="47.60" y="473.99" font-size="15" textLength="7.61" lengthAdjust="spacingAndGlyphs" >0</text>
<text x="120.65" y="512.90" font-size="15" textLength="7.61" lengthAdjust="spacingAndGlyphs" >9</text>
<text x="147.10" y="512.90" font-size="15" textLength="15.22" lengthAdjust="spacingAndGlyphs" >10</text>
<text x="178.18" y="512.90" font-size="15" textLength="15.22" lengthAdjust="spacingAndGlyphs" >11</text>
<text x="208.53" y="512.90" font-size="15" textLength="15.22" lengthAdjust="spacingAndGlyphs" >12</text>
<text x="240.15" y="512.90" font-size="15" textLength="15.22" lengthAdjust="spacingAndGlyphs" >13</text>
<text x="271.07" y="512.90" font-size="15" textLength="15.22" lengthAdjust="spacingAndGlyphs" >14</text>
<text x="301.95" y="512.90" font-size="15" textLength="15.22" lengthAdjust="spacingAndGlyphs" >15</text>
<text x="333.30" y="512.90" font-size="15" textLength="15.22" lengthAdjust="spacingAndGlyphs" >16</text>
<text x="364.00" y="512.90" font-size="15" textLength="15.22" lengthAdjust="spacingAndGlyphs" >17</text>
<text x="394.82" y="512.90" font-size="15" textLength="15.22" lengthAdjust="spacingAndGlyphs" >18</text>
<text x="426.20" y="512.90" font-size="15" textLength="15.22" lengthAdjust="spacingAndGlyphs" >19</text>
<text transform="translate(230.30,555.60) scale(1,0.95)" font-size="21.5" textLength="104.50" lengthAdjust="spacingAndGlyphs">Age in Years</text>
<text transform="translate(14.3,410.4) rotate(-90) scale(1,0.95)" font-size="21.35" textLength="293.45" lengthAdjust="spacingAndGlyphs">Total Body BMC Gain in g per year</text>
<text transform="translate(135.50,127.60) scale(1,0.95)" font-size="14.3" textLength="36.73" lengthAdjust="spacingAndGlyphs">Age at</text>
<text transform="translate(135.40,144.60) scale(1,0.95)" font-size="14.3" textLength="27.56" lengthAdjust="spacingAndGlyphs">Peak</text>
<text transform="translate(135.60,161.70) scale(1,0.95)" font-size="14.3" textLength="38.20" lengthAdjust="spacingAndGlyphs">Height</text>
<text transform="translate(135.80,178.80) scale(1,0.95)" font-size="14.3" textLength="45.92" lengthAdjust="spacingAndGlyphs">Velocity</text>
<text transform="translate(351.90,159.70) scale(1,0.95)" font-size="14.3" textLength="164.09" lengthAdjust="spacingAndGlyphs">Age at Peak Bone Mass Gain</text>
<text transform="translate(106.30,309.00) scale(1,0.95)" font-size="14.3" textLength="26.17" lengthAdjust="spacingAndGlyphs">Girls</text>
<text transform="translate(384.90,312.60) scale(1,0.95)" font-size="14.3" textLength="27.17" lengthAdjust="spacingAndGlyphs">Boys</text>
<text transform="translate(335.90,474.90) scale(1,0.95)" font-size="14.3" textLength="134.47" lengthAdjust="spacingAndGlyphs">Lag Period of Low BMD</text>
</g>
</svg>
</body></html>
